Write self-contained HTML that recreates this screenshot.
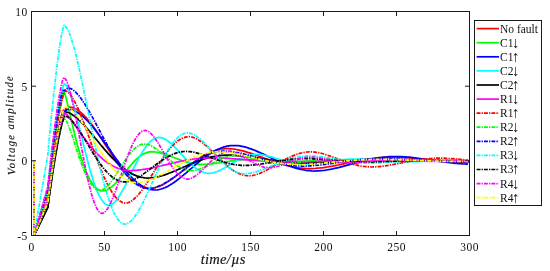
<!DOCTYPE html>
<html lang="en"><head><meta charset="utf-8"><title>Voltage amplitude</title>
<style>html,body{margin:0;padding:0;background:#fff}body{width:550px;height:271px;overflow:hidden}svg{display:block}text{font-family:"Liberation Serif",serif;fill:#111}.tk{font-size:11.5px}.lg{font-size:11.5px}.c{fill:none;stroke-width:1.75;stroke-linejoin:round}.d{stroke-dasharray:3.9 1.1 1.3 1.1}</style></head><body>
<svg width="550" height="271" viewBox="0 0 550 271">
<rect width="550" height="271" fill="#fff"/>
<clipPath id="cp"><rect x="31.5" y="11.5" width="438.0" height="224.0"/></clipPath>
<g clip-path="url(#cp)">
<path class="c" stroke="#ff0000" d="M34.0,160.8 L34.0,235.5 L47.9,205.6 L48.5,200.1 L49.2,194.6 L49.8,189.3 L50.5,184.0 L51.1,178.9 L51.8,173.8 L52.5,168.9 L53.1,164.1 L53.8,159.4 L54.4,154.8 L55.1,150.4 L55.7,146.1 L56.4,141.9 L57.0,137.9 L57.7,134.0 L58.4,130.4 L59.0,126.8 L59.7,123.5 L60.3,120.4 L61.0,117.6 L61.6,115.0 L62.3,112.7 L63.0,110.9 L63.6,109.8 L64.3,109.7 L65.1,109.4 L65.8,108.9 L66.5,108.4 L67.3,107.9 L68.0,107.5 L68.7,107.2 L69.5,107.1 L71.3,107.3 L73.1,107.8 L74.9,108.5 L76.8,109.5 L78.6,110.7 L80.4,112.1 L82.2,113.7 L84.1,115.5 L85.9,117.4 L87.7,119.5 L89.5,121.8 L91.4,124.1 L93.2,126.6 L95.0,129.1 L96.8,131.8 L98.7,134.5 L100.5,137.3 L102.3,140.1 L104.1,142.9 L106.0,145.7 L107.8,148.6 L109.6,151.4 L111.4,154.2 L113.3,157.0 L115.1,159.7 L116.9,162.3 L118.7,164.9 L120.6,167.3 L122.4,169.7 L124.2,172.0 L126.0,174.2 L127.9,176.2 L129.7,178.1 L131.5,179.8 L133.3,181.4 L135.2,182.9 L137.0,184.2 L138.8,185.3 L140.6,186.3 L142.5,187.1 L144.3,187.7 L146.1,188.1 L147.9,188.4 L149.8,188.5 L151.6,188.3 L153.4,188.1 L155.3,187.6 L157.1,187.0 L159.0,186.4 L160.8,185.6 L162.7,184.7 L164.5,183.7 L166.3,182.6 L168.2,181.5 L170.0,180.3 L171.9,179.0 L173.7,177.7 L175.6,176.3 L177.4,174.9 L179.2,173.5 L181.1,172.1 L182.9,170.6 L184.8,169.2 L186.6,167.7 L188.4,166.3 L190.3,164.9 L192.1,163.5 L194.0,162.1 L195.8,160.8 L197.7,159.5 L199.5,158.3 L201.3,157.1 L203.2,156.0 L205.0,154.9 L206.9,154.0 L208.7,153.0 L210.6,152.2 L212.4,151.5 L214.2,150.8 L216.1,150.2 L217.9,149.7 L219.8,149.3 L221.6,149.0 L223.5,148.8 L225.3,148.6 L227.1,148.6 L229.0,148.6 L230.8,148.8 L232.7,149.0 L234.5,149.2 L236.4,149.5 L238.2,149.9 L240.1,150.3 L241.9,150.7 L243.8,151.2 L245.6,151.7 L247.5,152.3 L249.3,152.8 L251.2,153.4 L253.0,154.0 L254.9,154.7 L256.7,155.3 L258.6,156.0 L260.4,156.7 L262.3,157.3 L264.1,158.0 L266.0,158.7 L267.8,159.4 L269.7,160.1 L271.5,160.7 L273.4,161.4 L275.2,162.0 L277.1,162.6 L278.9,163.2 L280.8,163.8 L282.6,164.3 L284.5,164.9 L286.3,165.3 L288.2,165.8 L290.0,166.2 L291.9,166.6 L293.7,167.0 L295.6,167.3 L297.4,167.6 L299.3,167.9 L301.1,168.1 L303.0,168.3 L304.8,168.4 L306.7,168.5 L308.5,168.6 L310.4,168.6 L312.2,168.6 L314.1,168.5 L315.9,168.4 L317.8,168.2 L319.7,168.0 L321.5,167.8 L323.4,167.6 L325.2,167.3 L327.1,167.0 L328.9,166.7 L330.8,166.4 L332.7,166.1 L334.5,165.7 L336.4,165.3 L338.2,165.0 L340.1,164.6 L341.9,164.2 L343.8,163.8 L345.7,163.4 L347.5,163.0 L349.4,162.6 L351.2,162.2 L353.1,161.8 L355.0,161.4 L356.8,161.1 L358.7,160.7 L360.5,160.3 L362.4,160.0 L364.2,159.7 L366.1,159.3 L368.0,159.1 L369.8,158.8 L371.7,158.5 L373.5,158.3 L375.4,158.1 L377.3,157.9 L379.1,157.7 L381.0,157.5 L382.8,157.4 L384.7,157.3 L386.5,157.2 L388.4,157.1 L390.3,157.1 L392.1,157.1 L394.0,157.1 L395.8,157.2 L397.7,157.2 L399.6,157.3 L401.4,157.4 L403.3,157.5 L405.1,157.6 L407.0,157.7 L408.8,157.8 L410.7,158.0 L412.6,158.2 L414.4,158.3 L416.3,158.5 L418.1,158.7 L420.0,158.8 L421.9,159.0 L423.7,159.2 L425.6,159.4 L427.4,159.6 L429.3,159.8 L431.1,160.0 L433.0,160.2 L434.9,160.4 L436.7,160.5 L438.6,160.7 L440.4,160.9 L442.3,161.1 L444.1,161.2 L446.0,161.4 L447.9,161.5 L449.7,161.7 L451.6,161.8 L453.4,161.9 L455.3,162.1 L457.2,162.2 L459.0,162.3 L460.9,162.3 L462.7,162.4 L464.6,162.5 L466.4,162.5 L468.3,162.6"/>
<path class="c" stroke="#00ff00" d="M34.0,160.8 L34.0,235.5 L47.9,189.2 L48.5,183.6 L49.2,178.1 L49.9,172.7 L50.6,167.3 L51.3,162.1 L52.0,157.0 L52.7,152.0 L53.4,147.2 L54.0,142.4 L54.7,137.8 L55.4,133.3 L56.1,128.9 L56.8,124.7 L57.5,120.6 L58.2,116.7 L58.9,113.0 L59.5,109.4 L60.2,106.1 L60.9,102.9 L61.6,100.0 L62.3,97.4 L63.0,95.1 L63.7,93.3 L64.3,92.1 L66.2,98.3 L68.0,106.0 L69.9,113.9 L71.7,121.9 L73.6,129.7 L75.4,137.2 L77.2,144.3 L79.1,150.9 L80.9,157.1 L82.8,162.7 L84.6,167.8 L86.5,172.4 L88.3,176.5 L90.1,180.1 L92.0,183.1 L93.8,185.6 L95.7,187.6 L97.5,189.1 L99.4,190.2 L101.2,190.8 L103.0,191.0 L104.9,190.7 L106.8,190.0 L108.7,189.0 L110.5,187.8 L112.4,186.2 L114.3,184.5 L116.2,182.6 L118.0,180.5 L119.9,178.3 L121.8,176.1 L123.7,173.8 L125.5,171.4 L127.4,169.2 L129.3,166.9 L131.2,164.7 L133.0,162.7 L134.9,160.7 L136.8,158.9 L138.7,157.3 L140.6,155.9 L142.4,154.6 L144.3,153.6 L146.2,152.8 L148.1,152.2 L149.9,151.8 L151.8,151.7 L153.7,151.8 L155.5,152.0 L157.4,152.3 L159.3,152.7 L161.2,153.2 L163.0,153.7 L164.9,154.3 L166.8,154.9 L168.6,155.6 L170.5,156.3 L172.4,157.0 L174.3,157.7 L176.1,158.4 L178.0,159.1 L179.9,159.8 L181.7,160.5 L183.6,161.1 L185.5,161.7 L187.4,162.3 L189.2,162.7 L191.1,163.2 L193.0,163.6 L194.8,163.9 L196.7,164.1 L198.6,164.3 L200.4,164.4 L202.3,164.4 L204.2,164.4 L206.0,164.3 L207.8,164.2 L209.7,164.0 L211.5,163.8 L213.4,163.6 L215.2,163.4 L217.0,163.1 L218.9,162.9 L220.7,162.6 L222.5,162.3 L224.4,162.0 L226.2,161.7 L228.1,161.5 L229.9,161.2 L231.7,160.9 L233.6,160.7 L235.4,160.4 L237.3,160.2 L239.1,160.0 L240.9,159.8 L242.8,159.7 L244.6,159.6 L246.4,159.5 L248.3,159.4 L250.1,159.4 L252.0,159.3 L253.8,159.4 L255.6,159.4 L257.5,159.4 L259.3,159.5 L261.2,159.6 L263.0,159.7 L264.8,159.8 L266.7,159.9 L268.5,160.0 L270.3,160.1 L272.2,160.2 L274.0,160.3 L275.9,160.4 L277.7,160.6 L279.5,160.7 L281.4,160.8 L283.2,160.9 L285.1,161.0 L286.9,161.1 L288.7,161.2 L290.6,161.2 L292.4,161.3 L294.2,161.3 L296.1,161.4 L297.9,161.4 L299.8,161.4 L301.6,161.4 L303.4,161.4 L305.3,161.4 L307.1,161.4 L309.0,161.4 L310.8,161.3 L312.6,161.3 L314.5,161.2 L316.3,161.2 L318.1,161.2 L320.0,161.1 L321.8,161.1 L323.7,161.0 L325.5,161.0 L327.3,160.9 L329.2,160.9 L331.0,160.8 L332.9,160.8 L334.7,160.7 L336.5,160.7 L338.4,160.7 L340.2,160.6 L342.0,160.6 L343.9,160.6 L345.7,160.6 L347.6,160.5 L349.4,160.5 L351.2,160.5 L353.1,160.5 L354.9,160.5 L356.8,160.6 L358.6,160.6 L360.4,160.6 L362.3,160.6 L364.1,160.6 L365.9,160.6 L367.8,160.7 L369.6,160.7 L371.5,160.7 L373.3,160.7 L375.1,160.8 L377.0,160.8 L378.8,160.8 L380.7,160.8 L382.5,160.9 L384.3,160.9 L386.2,160.9 L388.0,160.9 L389.8,160.9 L391.7,161.0 L393.5,161.0 L395.4,161.0 L397.2,161.0 L399.0,161.0 L400.9,161.0 L402.7,161.0 L404.6,161.0 L406.4,161.0 L408.2,161.0 L410.1,161.0 L411.9,161.0 L413.7,161.0 L415.6,160.9 L417.4,160.9 L419.3,160.9 L421.1,160.9 L422.9,160.9 L424.8,160.9 L426.6,160.9 L428.5,160.9 L430.3,160.9 L432.1,160.9 L434.0,160.9 L435.8,160.9 L437.7,160.9 L439.5,160.8 L441.3,160.8 L443.2,160.8 L445.0,160.8 L446.8,160.8 L448.7,160.8 L450.5,160.8 L452.4,160.8 L454.2,160.8 L456.0,160.8 L457.9,160.8 L459.7,160.8 L461.6,160.8 L463.4,160.8 L465.2,160.8 L467.1,160.8 L468.9,160.8"/>
<path class="c" stroke="#0000ff" d="M34.0,160.8 L34.0,235.5 L47.9,207.1 L48.5,201.6 L49.2,196.2 L49.8,190.8 L50.5,185.6 L51.1,180.5 L51.8,175.4 L52.5,170.5 L53.1,165.7 L53.8,161.0 L54.4,156.5 L55.1,152.1 L55.7,147.8 L56.4,143.6 L57.0,139.6 L57.7,135.8 L58.4,132.1 L59.0,128.6 L59.7,125.3 L60.3,122.2 L61.0,119.3 L61.6,116.8 L62.3,114.5 L63.0,112.7 L63.6,111.6 L64.2,111.5 L64.7,111.2 L65.3,110.9 L65.8,110.4 L66.4,110.0 L66.9,109.6 L67.5,109.4 L68.0,109.3 L69.8,109.5 L71.7,109.9 L73.5,110.5 L75.3,111.3 L77.1,112.2 L79.0,113.4 L80.8,114.7 L82.6,116.2 L84.4,117.8 L86.2,119.6 L88.1,121.5 L89.9,123.5 L91.7,125.6 L93.5,127.8 L95.4,130.1 L97.2,132.5 L99.0,134.9 L100.8,137.4 L102.7,139.9 L104.5,142.5 L106.3,145.0 L108.2,147.6 L110.0,150.2 L111.8,152.8 L113.6,155.3 L115.5,157.9 L117.3,160.3 L119.1,162.8 L120.9,165.2 L122.8,167.5 L124.6,169.7 L126.4,171.9 L128.2,173.9 L130.1,175.9 L131.9,177.7 L133.7,179.5 L135.5,181.1 L137.3,182.6 L139.2,184.0 L141.0,185.2 L142.8,186.3 L144.7,187.3 L146.5,188.1 L148.3,188.8 L150.1,189.3 L151.9,189.7 L153.8,189.9 L155.6,190.0 L157.4,189.8 L159.3,189.5 L161.1,189.0 L162.9,188.4 L164.8,187.7 L166.6,186.9 L168.4,185.9 L170.3,184.8 L172.1,183.7 L173.9,182.5 L175.8,181.2 L177.6,179.8 L179.4,178.4 L181.3,176.9 L183.1,175.4 L184.9,173.9 L186.8,172.3 L188.6,170.7 L190.4,169.1 L192.3,167.6 L194.1,166.0 L195.9,164.4 L197.8,162.9 L199.6,161.4 L201.4,159.9 L203.3,158.5 L205.1,157.1 L206.9,155.8 L208.8,154.5 L210.6,153.3 L212.4,152.2 L214.3,151.2 L216.1,150.2 L217.9,149.3 L219.8,148.5 L221.6,147.8 L223.4,147.2 L225.3,146.7 L227.1,146.2 L228.9,145.9 L230.8,145.6 L232.6,145.5 L234.4,145.5 L236.3,145.5 L238.1,145.7 L240.0,145.9 L241.8,146.3 L243.6,146.7 L245.5,147.2 L247.3,147.7 L249.1,148.3 L251.0,148.9 L252.8,149.6 L254.7,150.3 L256.5,151.1 L258.3,151.9 L260.2,152.7 L262.0,153.5 L263.9,154.4 L265.7,155.2 L267.5,156.1 L269.4,157.0 L271.2,157.9 L273.0,158.8 L274.9,159.7 L276.7,160.5 L278.6,161.4 L280.4,162.2 L282.2,163.0 L284.1,163.8 L285.9,164.6 L287.7,165.3 L289.6,166.0 L291.4,166.7 L293.3,167.3 L295.1,167.8 L296.9,168.4 L298.8,168.9 L300.6,169.3 L302.5,169.7 L304.3,170.0 L306.1,170.3 L308.0,170.6 L309.8,170.7 L311.6,170.9 L313.5,171.0 L315.3,171.0 L317.2,170.9 L319.0,170.9 L320.9,170.7 L322.7,170.5 L324.5,170.3 L326.4,170.0 L328.2,169.7 L330.1,169.4 L331.9,169.0 L333.8,168.6 L335.6,168.2 L337.5,167.8 L339.3,167.4 L341.2,166.9 L343.0,166.4 L344.8,165.9 L346.7,165.4 L348.5,164.9 L350.4,164.4 L352.2,163.9 L354.1,163.4 L355.9,162.9 L357.8,162.4 L359.6,162.0 L361.4,161.5 L363.3,161.0 L365.1,160.6 L367.0,160.1 L368.8,159.7 L370.7,159.3 L372.5,159.0 L374.4,158.6 L376.2,158.3 L378.1,158.0 L379.9,157.7 L381.7,157.5 L383.6,157.2 L385.4,157.0 L387.3,156.9 L389.1,156.7 L391.0,156.6 L392.8,156.6 L394.7,156.5 L396.5,156.5 L398.3,156.5 L400.2,156.6 L402.0,156.7 L403.8,156.8 L405.7,156.9 L407.5,157.0 L409.3,157.2 L411.2,157.4 L413.0,157.6 L414.8,157.8 L416.7,158.0 L418.5,158.3 L420.3,158.5 L422.2,158.8 L424.0,159.0 L425.8,159.3 L427.7,159.6 L429.5,159.9 L431.3,160.1 L433.2,160.4 L435.0,160.7 L436.8,161.0 L438.7,161.2 L440.5,161.5 L442.3,161.7 L444.2,162.0 L446.0,162.2 L447.8,162.5 L449.7,162.7 L451.5,162.9 L453.3,163.1 L455.2,163.3 L457.0,163.4 L458.8,163.6 L460.7,163.7 L462.5,163.9 L464.3,164.0 L466.2,164.1 L468.0,164.1"/>
<path class="c" stroke="#00ffff" d="M34.0,160.8 L34.0,235.5 L47.9,187.7 L48.5,181.7 L49.2,175.8 L49.9,170.0 L50.6,164.3 L51.3,158.7 L52.0,153.2 L52.7,147.9 L53.4,142.6 L54.0,137.5 L54.7,132.6 L55.4,127.7 L56.1,123.1 L56.8,118.5 L57.5,114.2 L58.2,110.0 L58.9,106.0 L59.5,102.2 L60.2,98.6 L60.9,95.2 L61.6,92.1 L62.3,89.3 L63.0,86.8 L63.7,84.8 L64.3,83.6 L66.2,85.3 L68.1,88.7 L69.9,93.3 L71.8,98.8 L73.6,105.1 L75.5,112.0 L77.3,119.3 L79.2,126.8 L81.0,134.5 L82.9,142.1 L84.8,149.7 L86.6,157.1 L88.5,164.2 L90.3,170.9 L92.2,177.1 L94.0,182.8 L95.9,188.0 L97.7,192.5 L99.6,196.4 L101.5,199.6 L103.3,202.1 L105.2,203.9 L107.0,205.0 L108.9,205.3 L110.7,204.9 L112.6,203.8 L114.5,202.2 L116.3,200.1 L118.2,197.6 L120.1,194.8 L121.9,191.6 L123.8,188.2 L125.7,184.7 L127.5,180.9 L129.4,177.1 L131.3,173.3 L133.1,169.4 L135.0,165.7 L136.9,162.0 L138.7,158.4 L140.6,155.0 L142.5,151.9 L144.3,149.0 L146.2,146.4 L148.1,144.0 L149.9,142.0 L151.8,140.4 L153.7,139.1 L155.5,138.1 L157.4,137.6 L159.2,137.4 L161.1,137.6 L163.0,138.2 L164.8,139.1 L166.7,140.2 L168.5,141.5 L170.4,143.0 L172.2,144.7 L174.1,146.4 L175.9,148.3 L177.8,150.3 L179.7,152.3 L181.5,154.4 L183.4,156.4 L185.2,158.4 L187.1,160.4 L188.9,162.2 L190.8,164.0 L192.6,165.7 L194.5,167.2 L196.3,168.6 L198.2,169.9 L200.1,170.9 L201.9,171.8 L203.8,172.5 L205.6,173.0 L207.5,173.3 L209.3,173.4 L211.2,173.2 L213.1,172.9 L215.0,172.4 L216.8,171.7 L218.7,170.9 L220.6,170.0 L222.5,169.0 L224.4,168.0 L226.3,166.9 L228.1,165.7 L230.0,164.6 L231.9,163.4 L233.8,162.3 L235.7,161.2 L237.5,160.1 L239.4,159.1 L241.3,158.2 L243.2,157.3 L245.1,156.6 L246.9,155.9 L248.8,155.4 L250.7,155.0 L252.6,154.7 L254.5,154.5 L256.3,154.4 L258.2,154.5 L260.0,154.6 L261.9,154.9 L263.7,155.2 L265.5,155.5 L267.4,155.9 L269.2,156.4 L271.0,156.9 L272.9,157.4 L274.7,158.0 L276.6,158.5 L278.4,159.1 L280.2,159.6 L282.1,160.2 L283.9,160.7 L285.8,161.2 L287.6,161.7 L289.4,162.2 L291.3,162.6 L293.1,163.0 L294.9,163.3 L296.8,163.6 L298.6,163.8 L300.5,164.0 L302.3,164.2 L304.1,164.2 L306.0,164.3 L307.8,164.2 L309.7,164.1 L311.5,164.0 L313.3,163.9 L315.2,163.7 L317.0,163.5 L318.8,163.2 L320.7,163.0 L322.5,162.7 L324.4,162.4 L326.2,162.1 L328.0,161.8 L329.9,161.5 L331.7,161.2 L333.6,160.9 L335.4,160.7 L337.2,160.4 L339.1,160.2 L340.9,159.9 L342.8,159.7 L344.6,159.6 L346.4,159.4 L348.3,159.3 L350.1,159.2 L351.9,159.1 L353.8,159.1 L355.6,159.0 L357.5,159.1 L359.3,159.1 L361.1,159.2 L363.0,159.2 L364.8,159.3 L366.7,159.5 L368.5,159.6 L370.3,159.7 L372.2,159.9 L374.0,160.0 L375.8,160.2 L377.7,160.3 L379.5,160.5 L381.4,160.6 L383.2,160.8 L385.0,160.9 L386.9,161.0 L388.7,161.2 L390.6,161.3 L392.4,161.4 L394.2,161.5 L396.1,161.5 L397.9,161.6 L399.7,161.7 L401.6,161.7 L403.4,161.7 L405.3,161.7 L407.1,161.7 L408.9,161.7 L410.8,161.7 L412.6,161.6 L414.5,161.6 L416.3,161.5 L418.1,161.5 L420.0,161.4 L421.8,161.3 L423.6,161.2 L425.5,161.2 L427.3,161.1 L429.2,161.0 L431.0,160.9 L432.8,160.9 L434.7,160.8 L436.5,160.7 L438.4,160.7 L440.2,160.6 L442.0,160.6 L443.9,160.5 L445.7,160.5 L447.5,160.4 L449.4,160.4 L451.2,160.4 L453.1,160.4 L454.9,160.4 L456.7,160.4 L458.6,160.4 L460.4,160.4 L462.3,160.4 L464.1,160.5 L465.9,160.5 L467.8,160.5"/>
<path class="c" stroke="#000000" d="M34.0,160.8 L34.0,235.5 L47.9,207.1 L48.6,201.6 L49.3,196.2 L50.1,190.9 L50.8,185.7 L51.6,180.6 L52.3,175.6 L53.1,170.7 L53.8,165.9 L54.6,161.3 L55.3,156.7 L56.1,152.3 L56.8,148.0 L57.6,143.9 L58.3,139.9 L59.1,136.1 L59.8,132.4 L60.6,129.0 L61.3,125.7 L62.1,122.6 L62.8,119.7 L63.6,117.2 L64.3,114.9 L65.1,113.1 L65.8,112.0 L67.6,112.3 L69.5,113.0 L71.3,114.0 L73.1,115.2 L75.0,116.5 L76.8,118.0 L78.6,119.7 L80.5,121.4 L82.3,123.3 L84.1,125.2 L86.0,127.3 L87.8,129.4 L89.6,131.5 L91.5,133.7 L93.3,135.9 L95.1,138.1 L97.0,140.3 L98.8,142.5 L100.6,144.7 L102.5,146.9 L104.3,149.1 L106.1,151.2 L108.0,153.3 L109.8,155.3 L111.6,157.3 L113.5,159.2 L115.3,161.0 L117.1,162.8 L119.0,164.4 L120.8,166.0 L122.6,167.6 L124.5,169.0 L126.3,170.3 L128.1,171.5 L130.0,172.6 L131.8,173.7 L133.6,174.6 L135.5,175.4 L137.3,176.1 L139.1,176.7 L141.0,177.2 L142.8,177.5 L144.6,177.8 L146.5,178.0 L148.3,178.0 L150.1,177.9 L152.0,177.8 L153.8,177.5 L155.6,177.2 L157.5,176.9 L159.3,176.4 L161.1,175.9 L163.0,175.4 L164.8,174.8 L166.6,174.2 L168.5,173.5 L170.3,172.8 L172.1,172.1 L174.0,171.3 L175.8,170.5 L177.6,169.7 L179.5,168.9 L181.3,168.1 L183.1,167.3 L185.0,166.5 L186.8,165.7 L188.6,164.9 L190.5,164.1 L192.3,163.3 L194.1,162.6 L196.0,161.9 L197.8,161.1 L199.6,160.5 L201.5,159.8 L203.3,159.2 L205.1,158.6 L207.0,158.1 L208.8,157.6 L210.6,157.1 L212.5,156.7 L214.3,156.4 L216.1,156.0 L218.0,155.8 L219.8,155.6 L221.6,155.4 L223.5,155.3 L225.3,155.2 L227.1,155.2 L229.0,155.2 L230.8,155.2 L232.6,155.3 L234.5,155.4 L236.3,155.6 L238.1,155.7 L240.0,155.9 L241.8,156.1 L243.6,156.3 L245.5,156.5 L247.3,156.7 L249.1,157.0 L251.0,157.2 L252.8,157.5 L254.6,157.7 L256.5,158.0 L258.3,158.3 L260.1,158.6 L262.0,158.9 L263.8,159.1 L265.6,159.4 L267.5,159.7 L269.3,160.0 L271.1,160.2 L273.0,160.5 L274.8,160.8 L276.6,161.0 L278.5,161.2 L280.3,161.5 L282.1,161.7 L284.0,161.9 L285.8,162.1 L287.6,162.2 L289.5,162.4 L291.3,162.5 L293.1,162.7 L295.0,162.8 L296.8,162.9 L298.6,162.9 L300.5,163.0 L302.3,163.0 L304.1,163.1 L306.0,163.1 L307.8,163.1 L309.6,163.0 L311.5,163.0 L313.3,163.0 L315.1,162.9 L317.0,162.9 L318.8,162.8 L320.6,162.7 L322.5,162.6 L324.3,162.5 L326.1,162.5 L328.0,162.4 L329.8,162.3 L331.6,162.2 L333.5,162.0 L335.3,161.9 L337.1,161.8 L339.0,161.7 L340.8,161.6 L342.6,161.5 L344.5,161.4 L346.3,161.3 L348.2,161.2 L350.0,161.1 L351.8,161.0 L353.7,160.9 L355.5,160.8 L357.3,160.7 L359.2,160.6 L361.0,160.5 L362.8,160.4 L364.7,160.3 L366.5,160.3 L368.3,160.2 L370.2,160.2 L372.0,160.1 L373.8,160.1 L375.7,160.0 L377.5,160.0 L379.3,160.0 L381.2,160.0 L383.0,159.9 L384.8,159.9 L386.7,159.9 L388.5,159.9 L390.3,160.0 L392.2,160.0 L394.0,160.0 L395.8,160.0 L397.7,160.0 L399.5,160.1 L401.3,160.1 L403.2,160.1 L405.0,160.2 L406.8,160.2 L408.7,160.2 L410.5,160.3 L412.3,160.3 L414.2,160.4 L416.0,160.4 L417.8,160.5 L419.7,160.5 L421.5,160.5 L423.3,160.6 L425.2,160.6 L427.0,160.7 L428.8,160.7 L430.7,160.7 L432.5,160.8 L434.3,160.8 L436.2,160.9 L438.0,160.9 L439.8,160.9 L441.7,161.0 L443.5,161.0 L445.3,161.0 L447.2,161.0 L449.0,161.0 L450.8,161.1 L452.7,161.1 L454.5,161.1 L456.3,161.1 L458.2,161.1 L460.0,161.1 L461.8,161.1 L463.7,161.1 L465.5,161.1 L467.3,161.1 L469.2,161.1"/>
<path class="c" stroke="#ff00ff" d="M34.0,160.8 L34.0,235.5 L47.9,199.7 L48.6,194.7 L49.3,189.7 L50.0,184.9 L50.7,180.1 L51.4,175.5 L52.2,170.9 L52.9,166.5 L53.6,162.1 L54.3,157.9 L55.0,153.8 L55.7,149.8 L56.5,145.9 L57.2,142.1 L57.9,138.5 L58.6,135.0 L59.3,131.7 L60.1,128.5 L60.8,125.5 L61.5,122.7 L62.2,120.1 L62.9,117.8 L63.6,115.7 L64.4,114.1 L65.1,113.0 L66.9,114.6 L68.7,116.7 L70.6,119.0 L72.4,121.5 L74.2,124.1 L76.0,126.7 L77.9,129.3 L79.7,131.9 L81.5,134.4 L83.3,137.0 L85.2,139.4 L87.0,141.8 L88.8,144.2 L90.6,146.4 L92.5,148.6 L94.3,150.7 L96.1,152.7 L97.9,154.5 L99.8,156.3 L101.6,158.0 L103.4,159.6 L105.2,161.0 L107.1,162.4 L108.9,163.6 L110.7,164.8 L112.5,165.8 L114.4,166.7 L116.2,167.6 L118.0,168.3 L119.8,168.9 L121.7,169.4 L123.5,169.8 L125.3,170.1 L127.1,170.4 L129.0,170.5 L130.8,170.5 L132.6,170.5 L134.4,170.4 L136.3,170.3 L138.1,170.1 L139.9,169.9 L141.7,169.7 L143.6,169.4 L145.4,169.1 L147.2,168.8 L149.0,168.5 L150.9,168.1 L152.7,167.8 L154.5,167.4 L156.3,167.0 L158.2,166.5 L160.0,166.1 L161.8,165.7 L163.6,165.2 L165.5,164.8 L167.3,164.4 L169.1,163.9 L170.9,163.5 L172.8,163.0 L174.6,162.6 L176.4,162.2 L178.2,161.8 L180.1,161.4 L181.9,161.0 L183.7,160.7 L185.5,160.3 L187.4,160.0 L189.2,159.7 L191.0,159.4 L192.8,159.1 L194.7,158.9 L196.5,158.7 L198.3,158.5 L200.1,158.3 L202.0,158.2 L203.8,158.1 L205.6,158.0 L207.4,157.9 L209.3,157.9 L211.1,157.8 L212.9,157.9 L214.8,157.9 L216.6,157.9 L218.5,158.0 L220.3,158.1 L222.2,158.1 L224.0,158.2 L225.9,158.3 L227.7,158.4 L229.6,158.6 L231.4,158.7 L233.3,158.8 L235.2,158.9 L237.0,159.1 L238.9,159.2 L240.7,159.4 L242.6,159.5 L244.4,159.6 L246.3,159.8 L248.1,159.9 L250.0,160.1 L251.8,160.2 L253.7,160.4 L255.5,160.5 L257.4,160.6 L259.2,160.7 L261.1,160.9 L262.9,161.0 L264.8,161.1 L266.6,161.2 L268.5,161.3 L270.3,161.4 L272.2,161.4 L274.0,161.5 L275.9,161.6 L277.7,161.6 L279.6,161.7 L281.4,161.7 L283.3,161.7 L285.1,161.7 L287.0,161.7 L288.8,161.7 L290.7,161.7 L292.5,161.7 L294.4,161.7 L296.2,161.7 L298.1,161.6 L299.9,161.6 L301.7,161.6 L303.6,161.6 L305.4,161.5 L307.3,161.5 L309.1,161.4 L311.0,161.4 L312.8,161.4 L314.6,161.3 L316.5,161.3 L318.3,161.2 L320.2,161.2 L322.0,161.2 L323.8,161.1 L325.7,161.1 L327.5,161.0 L329.4,161.0 L331.2,160.9 L333.1,160.9 L334.9,160.9 L336.7,160.8 L338.6,160.8 L340.4,160.8 L342.3,160.7 L344.1,160.7 L346.0,160.7 L347.8,160.6 L349.6,160.6 L351.5,160.6 L353.3,160.6 L355.2,160.6 L357.0,160.6 L358.9,160.5 L360.7,160.5 L362.5,160.5 L364.4,160.5 L366.2,160.5 L368.1,160.5 L369.9,160.5 L371.8,160.6 L373.6,160.6 L375.5,160.6 L377.3,160.6 L379.2,160.6 L381.0,160.6 L382.9,160.6 L384.7,160.6 L386.6,160.6 L388.5,160.7 L390.3,160.7 L392.2,160.7 L394.0,160.7 L395.9,160.7 L397.7,160.7 L399.6,160.8 L401.4,160.8 L403.3,160.8 L405.1,160.8 L407.0,160.8 L408.8,160.8 L410.7,160.9 L412.5,160.9 L414.4,160.9 L416.2,160.9 L418.1,160.9 L419.9,160.9 L421.8,160.9 L423.6,160.9 L425.5,160.9 L427.3,161.0 L429.2,161.0 L431.0,161.0 L432.9,161.0 L434.7,161.0 L436.6,161.0 L438.4,161.0 L440.3,161.0 L442.2,161.0 L444.0,161.0 L445.9,161.0 L447.7,161.0 L449.6,161.0 L451.4,161.0 L453.3,161.0 L455.1,161.0 L457.0,161.0 L458.8,161.0 L460.7,161.0 L462.5,160.9 L464.4,160.9 L466.2,160.9 L468.1,160.9"/>
<path class="c d" stroke="#ff0000" d="M34.0,160.8 L34.0,235.5 L47.9,193.7 L48.6,187.7 L49.3,181.9 L50.0,176.1 L50.7,170.5 L51.4,165.0 L52.2,159.6 L52.9,154.3 L53.6,149.1 L54.3,144.1 L55.0,139.2 L55.7,134.4 L56.5,129.8 L57.2,125.3 L57.9,121.0 L58.6,116.9 L59.3,112.9 L60.1,109.1 L60.8,105.6 L61.5,102.2 L62.2,99.2 L62.9,96.4 L63.6,94.0 L64.4,92.0 L65.1,90.8 L66.9,91.4 L68.8,92.9 L70.6,95.0 L72.4,97.7 L74.3,100.9 L76.1,104.5 L78.0,108.4 L79.8,112.7 L81.6,117.3 L83.5,122.1 L85.3,127.0 L87.2,132.1 L89.0,137.2 L90.8,142.4 L92.7,147.6 L94.5,152.7 L96.4,157.7 L98.2,162.6 L100.0,167.4 L101.9,171.9 L103.7,176.3 L105.6,180.3 L107.4,184.1 L109.3,187.6 L111.1,190.8 L112.9,193.6 L114.8,196.1 L116.6,198.3 L118.5,200.0 L120.3,201.3 L122.1,202.3 L124.0,202.9 L125.8,203.1 L127.7,202.8 L129.5,202.1 L131.4,201.0 L133.3,199.7 L135.1,198.0 L137.0,196.1 L138.9,194.0 L140.7,191.7 L142.6,189.2 L144.5,186.6 L146.3,183.8 L148.2,181.0 L150.0,178.0 L151.9,175.1 L153.8,172.1 L155.6,169.1 L157.5,166.1 L159.4,163.2 L161.2,160.4 L163.1,157.6 L165.0,155.0 L166.8,152.4 L168.7,150.0 L170.5,147.8 L172.4,145.8 L174.3,143.9 L176.1,142.2 L178.0,140.8 L179.9,139.5 L181.7,138.5 L183.6,137.7 L185.5,137.1 L187.3,136.8 L189.2,136.6 L191.1,136.8 L192.9,137.3 L194.8,138.0 L196.7,138.9 L198.5,140.0 L200.4,141.2 L202.3,142.6 L204.1,144.1 L206.0,145.7 L207.9,147.4 L209.8,149.1 L211.6,151.0 L213.5,152.8 L215.4,154.7 L217.2,156.6 L219.1,158.4 L221.0,160.2 L222.9,162.0 L224.7,163.7 L226.6,165.4 L228.5,166.9 L230.3,168.4 L232.2,169.7 L234.1,171.0 L235.9,172.1 L237.8,173.0 L239.7,173.9 L241.6,174.5 L243.4,175.1 L245.3,175.5 L247.2,175.7 L249.0,175.8 L250.9,175.7 L252.8,175.4 L254.7,175.0 L256.5,174.5 L258.4,173.8 L260.3,173.1 L262.2,172.3 L264.0,171.5 L265.9,170.5 L267.8,169.5 L269.7,168.5 L271.6,167.4 L273.4,166.3 L275.3,165.2 L277.2,164.1 L279.1,163.0 L280.9,161.9 L282.8,160.9 L284.7,159.8 L286.6,158.8 L288.4,157.9 L290.3,157.0 L292.2,156.1 L294.1,155.4 L295.9,154.6 L297.8,154.0 L299.7,153.4 L301.6,153.0 L303.4,152.6 L305.3,152.3 L307.2,152.0 L309.1,151.9 L310.9,151.9 L312.8,151.9 L314.6,152.1 L316.5,152.4 L318.3,152.7 L320.1,153.1 L322.0,153.5 L323.8,154.0 L325.7,154.6 L327.5,155.2 L329.3,155.8 L331.2,156.5 L333.0,157.1 L334.9,157.8 L336.7,158.5 L338.6,159.2 L340.4,159.9 L342.2,160.6 L344.1,161.3 L345.9,161.9 L347.8,162.6 L349.6,163.2 L351.4,163.7 L353.3,164.3 L355.1,164.8 L357.0,165.2 L358.8,165.6 L360.6,166.0 L362.5,166.3 L364.3,166.5 L366.2,166.7 L368.0,166.8 L369.8,166.9 L371.7,167.0 L373.5,166.9 L375.4,166.8 L377.2,166.7 L379.1,166.6 L381.0,166.4 L382.8,166.2 L384.7,165.9 L386.5,165.6 L388.4,165.4 L390.2,165.0 L392.1,164.7 L393.9,164.4 L395.8,164.0 L397.6,163.7 L399.5,163.3 L401.4,163.0 L403.2,162.6 L405.1,162.2 L406.9,161.9 L408.8,161.5 L410.6,161.2 L412.5,160.8 L414.3,160.5 L416.2,160.2 L418.0,159.9 L419.9,159.7 L421.8,159.4 L423.6,159.2 L425.5,159.0 L427.3,158.8 L429.2,158.6 L431.0,158.5 L432.9,158.4 L434.7,158.3 L436.6,158.2 L438.4,158.2 L440.3,158.1 L442.2,158.2 L444.0,158.2 L445.9,158.3 L447.7,158.4 L449.6,158.5 L451.4,158.6 L453.3,158.7 L455.2,158.9 L457.0,159.1 L458.9,159.2 L460.7,159.4 L462.6,159.6 L464.5,159.8 L466.3,160.0 L468.2,160.2"/>
<path class="c d" stroke="#00ff00" d="M34.0,160.8 L34.0,235.5 L47.9,201.2 L48.5,196.4 L49.2,191.6 L49.9,187.0 L50.6,182.4 L51.3,178.0 L52.0,173.6 L52.7,169.4 L53.4,165.2 L54.0,161.1 L54.7,157.2 L55.4,153.3 L56.1,149.6 L56.8,146.0 L57.5,142.5 L58.2,139.2 L58.9,136.0 L59.5,132.9 L60.2,130.0 L60.9,127.4 L61.6,124.9 L62.3,122.6 L63.0,120.7 L63.7,119.1 L64.3,118.1 L66.2,120.5 L68.1,124.6 L70.0,129.5 L71.9,135.0 L73.8,140.7 L75.6,146.5 L77.5,152.3 L79.4,157.9 L81.3,163.2 L83.2,168.2 L85.1,172.8 L86.9,176.9 L88.8,180.5 L90.7,183.5 L92.6,186.0 L94.5,188.0 L96.4,189.3 L98.2,190.1 L100.1,190.4 L102.0,190.0 L103.8,189.1 L105.7,187.7 L107.5,186.0 L109.4,183.9 L111.2,181.6 L113.1,179.0 L114.9,176.3 L116.8,173.4 L118.6,170.5 L120.5,167.5 L122.3,164.6 L124.2,161.7 L126.0,158.9 L127.9,156.3 L129.7,153.9 L131.6,151.6 L133.4,149.7 L135.3,148.0 L137.1,146.5 L139.0,145.4 L140.8,144.6 L142.7,144.1 L144.5,144.0 L146.3,144.1 L148.2,144.6 L150.0,145.3 L151.8,146.2 L153.7,147.2 L155.5,148.4 L157.3,149.7 L159.1,151.1 L161.0,152.5 L162.8,154.1 L164.6,155.6 L166.5,157.2 L168.3,158.7 L170.1,160.3 L172.0,161.7 L173.8,163.1 L175.6,164.4 L177.5,165.7 L179.3,166.8 L181.1,167.7 L182.9,168.6 L184.8,169.3 L186.6,169.8 L188.4,170.2 L190.3,170.5 L192.1,170.5 L194.0,170.4 L195.9,170.1 L197.8,169.7 L199.6,169.1 L201.5,168.4 L203.4,167.6 L205.3,166.8 L207.2,165.9 L209.1,165.0 L211.0,164.0 L212.8,163.0 L214.7,162.1 L216.6,161.1 L218.5,160.2 L220.4,159.4 L222.3,158.6 L224.2,157.8 L226.0,157.2 L227.9,156.6 L229.8,156.2 L231.7,155.8 L233.6,155.5 L235.5,155.4 L237.4,155.3 L239.2,155.4 L241.1,155.5 L243.0,155.8 L244.9,156.1 L246.8,156.5 L248.7,156.9 L250.6,157.4 L252.4,157.9 L254.3,158.4 L256.2,159.0 L258.1,159.5 L260.0,160.0 L261.9,160.6 L263.8,161.1 L265.6,161.6 L267.5,162.0 L269.4,162.4 L271.3,162.8 L273.2,163.1 L275.1,163.3 L277.0,163.6 L278.8,163.7 L280.7,163.8 L282.6,163.8 L284.5,163.8 L286.4,163.7 L288.3,163.5 L290.2,163.4 L292.0,163.2 L293.9,162.9 L295.8,162.6 L297.7,162.4 L299.6,162.1 L301.5,161.8 L303.4,161.5 L305.2,161.2 L307.1,160.9 L309.0,160.6 L310.9,160.3 L312.8,160.1 L314.7,159.8 L316.6,159.6 L318.5,159.5 L320.3,159.3 L322.2,159.2 L324.1,159.1 L326.0,159.1 L327.9,159.0 L329.8,159.1 L331.7,159.1 L333.5,159.2 L335.4,159.3 L337.3,159.4 L339.2,159.6 L341.1,159.7 L343.0,159.9 L344.9,160.1 L346.7,160.3 L348.6,160.4 L350.5,160.6 L352.4,160.8 L354.3,161.0 L356.2,161.1 L358.1,161.3 L359.9,161.4 L361.8,161.5 L363.7,161.6 L365.6,161.7 L367.5,161.8 L369.4,161.8 L371.3,161.9 L373.1,161.9 L375.0,161.9 L376.9,161.8 L378.8,161.8 L380.7,161.7 L382.6,161.6 L384.5,161.6 L386.3,161.5 L388.2,161.4 L390.1,161.3 L392.0,161.2 L393.9,161.1 L395.8,161.0 L397.7,160.9 L399.5,160.8 L401.4,160.7 L403.3,160.6 L405.2,160.5 L407.1,160.4 L409.0,160.4 L410.9,160.3 L412.7,160.3 L414.6,160.3 L416.5,160.2 L418.4,160.2 L420.3,160.2 L422.2,160.3 L424.1,160.3 L425.9,160.3 L427.8,160.4 L429.7,160.4 L431.6,160.5 L433.5,160.5 L435.4,160.6 L437.3,160.6 L439.1,160.7 L441.0,160.7 L442.9,160.8 L444.8,160.8 L446.7,160.9 L448.6,160.9 L450.5,161.0 L452.3,161.0 L454.2,161.1 L456.1,161.1 L458.0,161.1 L459.9,161.1 L461.8,161.1 L463.7,161.1 L465.5,161.1 L467.4,161.1 L469.3,161.1"/>
<path class="c d" stroke="#0000ff" d="M34.0,160.8 L34.0,235.5 L47.9,189.2 L48.5,183.5 L49.1,177.9 L49.8,172.4 L50.4,166.9 L51.1,161.6 L51.7,156.4 L52.4,151.4 L53.0,146.4 L53.7,141.5 L54.3,136.8 L54.9,132.3 L55.6,127.8 L56.2,123.5 L56.9,119.4 L57.5,115.4 L58.2,111.6 L58.8,108.0 L59.5,104.5 L60.1,101.3 L60.7,98.4 L61.4,95.7 L62.0,93.4 L62.7,91.5 L63.3,90.3 L64.0,90.3 L64.7,90.0 L65.4,89.7 L66.1,89.2 L66.8,88.8 L67.5,88.4 L68.2,88.2 L68.9,88.1 L70.7,88.6 L72.6,89.6 L74.5,91.1 L76.3,92.8 L78.2,94.9 L80.1,97.2 L81.9,99.8 L83.8,102.5 L85.7,105.5 L87.5,108.5 L89.4,111.7 L91.2,115.0 L93.1,118.4 L95.0,121.9 L96.8,125.4 L98.7,128.9 L100.6,132.5 L102.4,136.0 L104.3,139.5 L106.2,143.0 L108.0,146.4 L109.9,149.7 L111.7,153.0 L113.6,156.2 L115.5,159.3 L117.3,162.3 L119.2,165.1 L121.1,167.8 L122.9,170.4 L124.8,172.8 L126.7,175.1 L128.5,177.2 L130.4,179.1 L132.3,180.9 L134.1,182.5 L136.0,183.9 L137.8,185.1 L139.7,186.1 L141.6,187.0 L143.4,187.6 L145.3,188.1 L147.2,188.4 L149.0,188.5 L150.9,188.3 L152.7,188.1 L154.5,187.6 L156.4,187.1 L158.2,186.4 L160.0,185.6 L161.9,184.8 L163.7,183.8 L165.5,182.8 L167.4,181.7 L169.2,180.5 L171.0,179.2 L172.9,178.0 L174.7,176.7 L176.5,175.3 L178.4,173.9 L180.2,172.6 L182.0,171.2 L183.9,169.8 L185.7,168.4 L187.5,167.0 L189.4,165.7 L191.2,164.3 L193.0,163.1 L194.9,161.8 L196.7,160.6 L198.5,159.5 L200.4,158.4 L202.2,157.4 L204.0,156.4 L205.9,155.5 L207.7,154.7 L209.5,154.0 L211.4,153.3 L213.2,152.7 L215.1,152.2 L216.9,151.8 L218.7,151.5 L220.6,151.3 L222.4,151.2 L224.2,151.1 L226.1,151.2 L227.9,151.3 L229.7,151.4 L231.6,151.6 L233.4,151.9 L235.2,152.2 L237.1,152.5 L238.9,152.8 L240.7,153.2 L242.6,153.6 L244.4,154.1 L246.2,154.5 L248.1,155.0 L249.9,155.5 L251.7,156.0 L253.6,156.5 L255.4,157.1 L257.2,157.6 L259.1,158.1 L260.9,158.6 L262.7,159.2 L264.6,159.7 L266.4,160.2 L268.2,160.7 L270.1,161.2 L271.9,161.7 L273.7,162.1 L275.6,162.6 L277.4,163.0 L279.2,163.4 L281.1,163.8 L282.9,164.1 L284.7,164.5 L286.6,164.8 L288.4,165.0 L290.2,165.3 L292.1,165.5 L293.9,165.7 L295.7,165.8 L297.6,165.9 L299.4,166.0 L301.2,166.0 L303.1,166.1 L304.9,166.0 L306.7,166.0 L308.6,165.9 L310.4,165.8 L312.2,165.7 L314.1,165.5 L315.9,165.4 L317.7,165.2 L319.6,165.0 L321.4,164.8 L323.2,164.6 L325.1,164.4 L326.9,164.1 L328.7,163.9 L330.6,163.6 L332.4,163.4 L334.2,163.1 L336.1,162.8 L337.9,162.6 L339.7,162.3 L341.6,162.0 L343.4,161.8 L345.2,161.5 L347.1,161.3 L348.9,161.0 L350.7,160.8 L352.6,160.6 L354.4,160.3 L356.2,160.1 L358.1,159.9 L359.9,159.7 L361.7,159.6 L363.6,159.4 L365.4,159.2 L367.2,159.1 L369.1,159.0 L370.9,158.9 L372.7,158.8 L374.6,158.7 L376.4,158.7 L378.2,158.6 L380.1,158.6 L381.9,158.6 L383.7,158.6 L385.6,158.6 L387.4,158.7 L389.2,158.7 L391.0,158.8 L392.9,158.8 L394.7,158.9 L396.5,159.0 L398.3,159.0 L400.1,159.1 L402.0,159.2 L403.8,159.3 L405.6,159.4 L407.4,159.5 L409.3,159.6 L411.1,159.7 L412.9,159.9 L414.8,160.0 L416.6,160.1 L418.4,160.2 L420.2,160.3 L422.1,160.4 L423.9,160.5 L425.7,160.6 L427.5,160.7 L429.4,160.9 L431.2,161.0 L433.0,161.1 L434.8,161.1 L436.6,161.2 L438.5,161.3 L440.3,161.4 L442.1,161.5 L443.9,161.5 L445.8,161.6 L447.6,161.7 L449.4,161.7 L451.2,161.8 L453.1,161.8 L454.9,161.8 L456.7,161.8 L458.6,161.9 L460.4,161.9 L462.2,161.9 L464.0,161.9 L465.9,161.9 L467.7,161.8 L469.5,161.8"/>
<path class="c d" stroke="#00ffff" d="M34.0,160.8 L34.0,235.5 L47.9,154.3 L48.5,146.8 L49.2,139.5 L49.9,132.3 L50.6,125.2 L51.2,118.3 L51.9,111.5 L52.6,104.9 L53.3,98.4 L53.9,92.1 L54.6,86.0 L55.3,80.0 L56.0,74.2 L56.6,68.6 L57.3,63.2 L58.0,58.0 L58.7,53.1 L59.3,48.3 L60.0,43.9 L60.7,39.7 L61.4,35.9 L62.0,32.4 L62.7,29.4 L63.4,26.9 L64.1,25.4 L65.9,26.8 L67.8,29.8 L69.6,34.0 L71.5,39.2 L73.3,45.3 L75.2,52.1 L77.0,59.5 L78.9,67.4 L80.7,75.7 L82.6,84.4 L84.4,93.3 L86.2,102.3 L88.1,111.5 L89.9,120.6 L91.8,129.7 L93.6,138.6 L95.5,147.3 L97.3,155.8 L99.2,163.9 L101.0,171.7 L102.9,179.1 L104.7,186.0 L106.6,192.4 L108.4,198.3 L110.3,203.7 L112.1,208.4 L114.0,212.6 L115.8,216.1 L117.7,219.0 L119.5,221.3 L121.4,222.9 L123.2,223.8 L125.1,224.2 L126.9,223.8 L128.8,222.8 L130.6,221.3 L132.5,219.5 L134.3,217.2 L136.1,214.6 L138.0,211.7 L139.8,208.5 L141.7,205.1 L143.5,201.5 L145.3,197.7 L147.2,193.8 L149.0,189.7 L150.9,185.7 L152.7,181.6 L154.6,177.5 L156.4,173.4 L158.2,169.4 L160.1,165.5 L161.9,161.7 L163.8,158.1 L165.6,154.6 L167.5,151.3 L169.3,148.3 L171.1,145.4 L173.0,142.9 L174.8,140.6 L176.7,138.6 L178.5,136.9 L180.4,135.4 L182.2,134.3 L184.0,133.5 L185.9,133.1 L187.7,132.9 L189.6,133.1 L191.4,133.6 L193.2,134.4 L195.1,135.4 L196.9,136.6 L198.7,137.9 L200.6,139.4 L202.4,141.1 L204.3,142.8 L206.1,144.7 L207.9,146.6 L209.8,148.6 L211.6,150.6 L213.4,152.6 L215.3,154.6 L217.1,156.6 L218.9,158.5 L220.8,160.4 L222.6,162.2 L224.5,163.9 L226.3,165.5 L228.1,167.0 L230.0,168.3 L231.8,169.6 L233.6,170.6 L235.5,171.6 L237.3,172.3 L239.1,172.9 L241.0,173.3 L242.8,173.6 L244.7,173.7 L246.5,173.6 L248.3,173.4 L250.2,173.2 L252.0,172.8 L253.8,172.4 L255.7,171.9 L257.5,171.4 L259.3,170.8 L261.2,170.1 L263.0,169.5 L264.8,168.8 L266.7,168.0 L268.5,167.3 L270.4,166.5 L272.2,165.7 L274.0,164.9 L275.9,164.2 L277.7,163.4 L279.5,162.7 L281.4,161.9 L283.2,161.2 L285.0,160.5 L286.9,159.9 L288.7,159.3 L290.5,158.7 L292.4,158.2 L294.2,157.7 L296.1,157.3 L297.9,156.9 L299.7,156.6 L301.6,156.4 L303.4,156.2 L305.2,156.0 L307.1,155.9 L308.9,155.9 L310.8,155.9 L312.6,156.0 L314.5,156.1 L316.3,156.3 L318.2,156.5 L320.0,156.7 L321.9,156.9 L323.8,157.2 L325.6,157.5 L327.5,157.8 L329.3,158.1 L331.2,158.4 L333.1,158.7 L334.9,159.1 L336.8,159.4 L338.6,159.7 L340.5,160.1 L342.3,160.4 L344.2,160.7 L346.1,161.0 L347.9,161.3 L349.8,161.5 L351.6,161.8 L353.5,162.0 L355.4,162.2 L357.2,162.4 L359.1,162.6 L360.9,162.7 L362.8,162.9 L364.6,163.0 L366.5,163.0 L368.4,163.1 L370.2,163.1 L372.1,163.1 L373.9,163.0 L375.8,163.0 L377.7,162.9 L379.5,162.8 L381.4,162.7 L383.2,162.6 L385.1,162.5 L386.9,162.4 L388.8,162.2 L390.7,162.1 L392.5,161.9 L394.4,161.8 L396.2,161.6 L398.1,161.5 L400.0,161.3 L401.8,161.2 L403.7,161.0 L405.5,160.9 L407.4,160.7 L409.2,160.6 L411.1,160.5 L413.0,160.4 L414.8,160.3 L416.7,160.2 L418.5,160.1 L420.4,160.0 L422.2,159.9 L424.1,159.9 L426.0,159.8 L427.8,159.8 L429.7,159.8 L431.5,159.8 L433.4,159.8 L435.3,159.8 L437.1,159.8 L439.0,159.9 L440.8,159.9 L442.7,160.0 L444.5,160.0 L446.4,160.1 L448.3,160.1 L450.1,160.2 L452.0,160.2 L453.8,160.3 L455.7,160.4 L457.6,160.4 L459.4,160.5 L461.3,160.6 L463.1,160.7 L465.0,160.7 L466.8,160.8 L468.7,160.8"/>
<path class="c d" stroke="#000000" d="M34.0,160.8 L34.0,235.5 L47.9,204.1 L48.6,199.0 L49.3,194.0 L50.0,189.1 L50.7,184.3 L51.4,179.6 L52.2,174.9 L52.9,170.4 L53.6,166.0 L54.3,161.7 L55.0,157.5 L55.7,153.4 L56.5,149.4 L57.2,145.6 L57.9,141.9 L58.6,138.4 L59.3,135.0 L60.1,131.7 L60.8,128.7 L61.5,125.8 L62.2,123.2 L62.9,120.8 L63.6,118.8 L64.4,117.1 L65.1,116.0 L67.0,116.6 L68.8,117.8 L70.7,119.5 L72.6,121.5 L74.4,123.7 L76.3,126.2 L78.2,128.9 L80.0,131.8 L81.9,134.7 L83.8,137.8 L85.7,140.9 L87.5,144.0 L89.4,147.1 L91.3,150.2 L93.1,153.2 L95.0,156.2 L96.9,159.0 L98.8,161.8 L100.6,164.4 L102.5,166.9 L104.4,169.2 L106.2,171.4 L108.1,173.3 L110.0,175.1 L111.8,176.7 L113.7,178.1 L115.6,179.2 L117.5,180.2 L119.3,180.9 L121.2,181.5 L123.1,181.8 L124.9,181.9 L126.8,181.8 L128.7,181.4 L130.5,180.9 L132.4,180.2 L134.2,179.4 L136.1,178.5 L137.9,177.5 L139.8,176.4 L141.7,175.2 L143.5,173.9 L145.4,172.6 L147.2,171.3 L149.1,169.9 L151.0,168.5 L152.8,167.0 L154.7,165.6 L156.5,164.3 L158.4,162.9 L160.2,161.6 L162.1,160.3 L164.0,159.1 L165.8,157.9 L167.7,156.9 L169.5,155.9 L171.4,155.0 L173.3,154.1 L175.1,153.4 L177.0,152.8 L178.8,152.3 L180.7,151.9 L182.5,151.6 L184.4,151.5 L186.3,151.4 L188.1,151.5 L189.9,151.7 L191.7,151.9 L193.6,152.2 L195.4,152.6 L197.2,153.1 L199.0,153.6 L200.9,154.1 L202.7,154.7 L204.5,155.3 L206.3,155.9 L208.2,156.6 L210.0,157.2 L211.8,157.9 L213.6,158.6 L215.5,159.2 L217.3,159.9 L219.1,160.5 L220.9,161.1 L222.8,161.7 L224.6,162.3 L226.4,162.8 L228.2,163.3 L230.1,163.7 L231.9,164.1 L233.7,164.5 L235.5,164.8 L237.4,165.0 L239.2,165.2 L241.0,165.4 L242.8,165.4 L244.7,165.5 L246.5,165.4 L248.4,165.4 L250.2,165.2 L252.1,165.1 L254.0,164.9 L255.8,164.7 L257.7,164.5 L259.5,164.2 L261.4,164.0 L263.2,163.7 L265.1,163.4 L267.0,163.1 L268.8,162.8 L270.7,162.4 L272.5,162.1 L274.4,161.8 L276.2,161.5 L278.1,161.2 L280.0,160.9 L281.8,160.6 L283.7,160.3 L285.5,160.1 L287.4,159.8 L289.3,159.6 L291.1,159.4 L293.0,159.2 L294.8,159.0 L296.7,158.9 L298.5,158.8 L300.4,158.7 L302.3,158.6 L304.1,158.6 L306.0,158.6 L307.8,158.6 L309.7,158.6 L311.6,158.7 L313.4,158.8 L315.3,158.9 L317.1,159.0 L319.0,159.1 L320.8,159.2 L322.7,159.3 L324.6,159.5 L326.4,159.6 L328.3,159.7 L330.1,159.9 L332.0,160.0 L333.9,160.2 L335.7,160.3 L337.6,160.5 L339.4,160.6 L341.3,160.8 L343.1,160.9 L345.0,161.1 L346.9,161.2 L348.7,161.3 L350.6,161.4 L352.4,161.5 L354.3,161.6 L356.2,161.7 L358.0,161.7 L359.9,161.8 L361.7,161.8 L363.6,161.9 L365.4,161.9 L367.3,161.9 L369.2,161.9 L371.0,161.9 L372.9,161.8 L374.7,161.8 L376.6,161.8 L378.4,161.7 L380.3,161.7 L382.2,161.6 L384.0,161.6 L385.9,161.5 L387.7,161.4 L389.6,161.4 L391.5,161.3 L393.3,161.2 L395.2,161.2 L397.0,161.1 L398.9,161.0 L400.7,160.9 L402.6,160.9 L404.5,160.8 L406.3,160.8 L408.2,160.7 L410.0,160.7 L411.9,160.6 L413.8,160.6 L415.6,160.5 L417.5,160.5 L419.3,160.5 L421.2,160.4 L423.0,160.4 L424.9,160.4 L426.8,160.4 L428.6,160.4 L430.5,160.4 L432.3,160.4 L434.2,160.4 L436.1,160.4 L437.9,160.4 L439.8,160.5 L441.6,160.5 L443.5,160.5 L445.3,160.5 L447.2,160.5 L449.1,160.6 L450.9,160.6 L452.8,160.6 L454.6,160.6 L456.5,160.7 L458.4,160.7 L460.2,160.7 L462.1,160.8 L463.9,160.8 L465.8,160.8 L467.6,160.8 L469.5,160.9"/>
<path class="c d" stroke="#ff00ff" d="M34.0,160.8 L34.0,235.5 L47.9,186.2 L48.5,179.9 L49.2,173.8 L49.8,167.7 L50.5,161.7 L51.2,155.9 L51.8,150.2 L52.5,144.6 L53.2,139.1 L53.8,133.8 L54.5,128.6 L55.1,123.6 L55.8,118.7 L56.5,114.0 L57.1,109.4 L57.8,105.0 L58.5,100.9 L59.1,96.9 L59.8,93.1 L60.5,89.6 L61.1,86.4 L61.8,83.4 L62.4,80.9 L63.1,78.8 L63.8,77.5 L65.6,79.2 L67.4,83.0 L69.3,88.5 L71.1,95.4 L72.9,103.3 L74.7,112.0 L76.6,121.3 L78.4,131.0 L80.2,140.9 L82.1,150.7 L83.9,160.2 L85.7,169.4 L87.5,178.0 L89.4,185.9 L91.2,192.9 L93.0,199.1 L94.9,204.2 L96.7,208.2 L98.5,211.1 L100.3,212.8 L102.2,213.4 L104.0,212.7 L105.9,210.9 L107.8,208.3 L109.7,204.9 L111.5,200.9 L113.4,196.5 L115.3,191.6 L117.1,186.4 L119.0,181.0 L120.9,175.5 L122.8,169.9 L124.6,164.5 L126.5,159.3 L128.4,154.2 L130.3,149.6 L132.1,145.3 L134.0,141.5 L135.9,138.1 L137.7,135.4 L139.6,133.2 L141.5,131.6 L143.4,130.7 L145.2,130.4 L147.1,130.8 L148.9,131.8 L150.8,133.4 L152.6,135.3 L154.5,137.7 L156.3,140.3 L158.2,143.2 L160.0,146.2 L161.9,149.4 L163.7,152.6 L165.6,155.8 L167.4,159.0 L169.2,162.1 L171.1,165.1 L172.9,167.8 L174.8,170.3 L176.6,172.5 L178.5,174.5 L180.3,176.1 L182.2,177.4 L184.0,178.3 L185.9,178.9 L187.7,179.1 L189.6,178.8 L191.5,178.2 L193.4,177.2 L195.3,176.0 L197.2,174.6 L199.1,173.0 L201.0,171.2 L202.9,169.4 L204.7,167.5 L206.6,165.6 L208.5,163.7 L210.4,161.8 L212.3,160.0 L214.2,158.4 L216.1,156.8 L218.0,155.4 L219.9,154.2 L221.8,153.2 L223.7,152.5 L225.5,151.9 L227.4,151.5 L229.3,151.4 L231.2,151.6 L233.0,152.0 L234.8,152.5 L236.6,153.2 L238.5,154.1 L240.3,155.0 L242.1,156.0 L243.9,157.1 L245.8,158.2 L247.6,159.4 L249.4,160.5 L251.2,161.6 L253.1,162.6 L254.9,163.6 L256.7,164.5 L258.5,165.3 L260.4,166.0 L262.2,166.6 L264.0,167.1 L265.8,167.4 L267.7,167.6 L269.5,167.7 L271.3,167.6 L273.2,167.4 L275.1,167.0 L276.9,166.5 L278.8,166.0 L280.6,165.4 L282.5,164.7 L284.3,164.0 L286.2,163.3 L288.1,162.5 L289.9,161.8 L291.8,161.1 L293.6,160.4 L295.5,159.8 L297.4,159.2 L299.2,158.6 L301.1,158.2 L302.9,157.8 L304.8,157.5 L306.6,157.3 L308.5,157.1 L310.4,157.1 L312.2,157.2 L314.1,157.3 L315.9,157.5 L317.8,157.7 L319.7,158.0 L321.5,158.4 L323.4,158.7 L325.2,159.1 L327.1,159.5 L328.9,159.9 L330.8,160.3 L332.7,160.7 L334.5,161.1 L336.4,161.5 L338.2,161.8 L340.1,162.1 L341.9,162.3 L343.8,162.5 L345.7,162.7 L347.5,162.8 L349.4,162.9 L351.2,162.9 L353.1,162.9 L355.0,162.8 L356.8,162.7 L358.7,162.6 L360.5,162.4 L362.4,162.2 L364.2,162.0 L366.1,161.8 L368.0,161.6 L369.8,161.3 L371.7,161.1 L373.5,160.9 L375.4,160.7 L377.3,160.5 L379.1,160.3 L381.0,160.1 L382.8,160.0 L384.7,159.9 L386.5,159.8 L388.4,159.7 L390.3,159.7 L392.1,159.6 L394.0,159.7 L395.8,159.7 L397.7,159.8 L399.6,159.8 L401.4,159.9 L403.3,160.0 L405.1,160.1 L407.0,160.3 L408.8,160.4 L410.7,160.5 L412.6,160.6 L414.4,160.8 L416.3,160.9 L418.1,161.0 L420.0,161.1 L421.9,161.2 L423.7,161.2 L425.6,161.3 L427.4,161.4 L429.3,161.4 L431.1,161.4 L433.0,161.4 L434.9,161.4 L436.7,161.4 L438.6,161.4 L440.4,161.3 L442.3,161.3 L444.1,161.2 L446.0,161.2 L447.9,161.1 L449.7,161.1 L451.6,161.0 L453.4,160.9 L455.3,160.9 L457.2,160.8 L459.0,160.8 L460.9,160.7 L462.7,160.7 L464.6,160.6 L466.4,160.6 L468.3,160.6"/>
<path class="c d" stroke="#ffff00" d="M34.0,160.8 L34.0,235.5 L47.9,202.6 L48.6,197.1 L49.3,191.7 L50.0,186.3 L50.7,181.1 L51.4,175.9 L52.2,170.9 L52.9,166.0 L53.6,161.2 L54.3,156.5 L55.0,151.9 L55.7,147.5 L56.5,143.2 L57.2,139.0 L57.9,135.0 L58.6,131.2 L59.3,127.5 L60.1,124.0 L60.8,120.7 L61.5,117.6 L62.2,114.7 L62.9,112.1 L63.6,109.9 L64.4,108.0 L65.1,106.9 L66.9,107.3 L68.7,108.2 L70.6,109.4 L72.4,110.9 L74.3,112.7 L76.1,114.7 L77.9,116.9 L79.8,119.2 L81.6,121.7 L83.4,124.4 L85.3,127.1 L87.1,129.9 L88.9,132.8 L90.8,135.7 L92.6,138.6 L94.4,141.6 L96.3,144.5 L98.1,147.4 L99.9,150.3 L101.8,153.1 L103.6,155.9 L105.4,158.5 L107.3,161.1 L109.1,163.5 L110.9,165.9 L112.8,168.1 L114.6,170.2 L116.4,172.1 L118.3,173.9 L120.1,175.6 L121.9,177.0 L123.8,178.3 L125.6,179.5 L127.4,180.4 L129.3,181.2 L131.1,181.8 L133.0,182.3 L134.8,182.5 L136.6,182.6 L138.5,182.6 L140.3,182.3 L142.2,182.0 L144.1,181.6 L145.9,181.1 L147.8,180.6 L149.6,179.9 L151.5,179.2 L153.3,178.5 L155.2,177.7 L157.1,176.8 L158.9,175.9 L160.8,174.9 L162.6,173.9 L164.5,172.9 L166.4,171.9 L168.2,170.8 L170.1,169.8 L171.9,168.7 L173.8,167.6 L175.6,166.6 L177.5,165.5 L179.4,164.5 L181.2,163.5 L183.1,162.4 L184.9,161.5 L186.8,160.5 L188.6,159.6 L190.5,158.7 L192.4,157.9 L194.2,157.1 L196.1,156.4 L197.9,155.7 L199.8,155.0 L201.7,154.4 L203.5,153.9 L205.4,153.4 L207.2,153.0 L209.1,152.7 L210.9,152.4 L212.8,152.2 L214.7,152.0 L216.5,151.9 L218.4,151.9 L220.2,151.9 L222.0,152.0 L223.9,152.1 L225.7,152.3 L227.5,152.5 L229.3,152.7 L231.2,153.0 L233.0,153.3 L234.8,153.6 L236.6,153.9 L238.5,154.3 L240.3,154.7 L242.1,155.1 L243.9,155.5 L245.8,155.9 L247.6,156.3 L249.4,156.7 L251.2,157.2 L253.1,157.6 L254.9,158.1 L256.7,158.5 L258.5,158.9 L260.4,159.4 L262.2,159.8 L264.0,160.2 L265.8,160.6 L267.7,161.0 L269.5,161.4 L271.3,161.7 L273.1,162.1 L275.0,162.4 L276.8,162.7 L278.6,163.0 L280.4,163.3 L282.3,163.5 L284.1,163.7 L285.9,163.9 L287.7,164.1 L289.6,164.2 L291.4,164.4 L293.2,164.4 L295.0,164.5 L296.9,164.6 L298.7,164.6 L300.5,164.6 L302.3,164.5 L304.2,164.5 L306.0,164.4 L307.8,164.3 L309.6,164.2 L311.5,164.1 L313.3,164.0 L315.1,163.9 L316.9,163.7 L318.8,163.6 L320.6,163.4 L322.4,163.3 L324.2,163.1 L326.1,162.9 L327.9,162.7 L329.7,162.6 L331.5,162.4 L333.4,162.2 L335.2,162.0 L337.0,161.8 L338.8,161.7 L340.7,161.5 L342.5,161.3 L344.3,161.1 L346.1,161.0 L348.0,160.8 L349.8,160.7 L351.6,160.5 L353.4,160.4 L355.3,160.2 L357.1,160.1 L358.9,160.0 L360.7,159.9 L362.6,159.8 L364.4,159.7 L366.2,159.6 L368.0,159.5 L369.9,159.5 L371.7,159.4 L373.5,159.4 L375.3,159.4 L377.2,159.3 L379.0,159.3 L380.8,159.3 L382.6,159.4 L384.5,159.4 L386.3,159.4 L388.1,159.4 L389.9,159.5 L391.8,159.5 L393.6,159.6 L395.4,159.6 L397.2,159.7 L399.1,159.7 L400.9,159.8 L402.7,159.9 L404.5,159.9 L406.4,160.0 L408.2,160.1 L410.0,160.1 L411.8,160.2 L413.7,160.3 L415.5,160.4 L417.3,160.4 L419.1,160.5 L421.0,160.6 L422.8,160.6 L424.6,160.7 L426.4,160.8 L428.3,160.8 L430.1,160.9 L431.9,161.0 L433.7,161.0 L435.6,161.1 L437.4,161.1 L439.2,161.2 L441.0,161.2 L442.9,161.3 L444.7,161.3 L446.5,161.3 L448.3,161.4 L450.2,161.4 L452.0,161.4 L453.8,161.4 L455.6,161.4 L457.5,161.4 L459.3,161.4 L461.1,161.4 L462.9,161.4 L464.8,161.4 L466.6,161.4 L468.4,161.4"/>
</g>
<rect x="31.5" y="11.5" width="438.0" height="224.0" fill="none" stroke="#1a1a1a" stroke-width="1"/>
<path d="M104.5,235.5 v-4.5 M104.5,11.5 v4.5 M177.5,235.5 v-4.5 M177.5,11.5 v4.5 M250.5,235.5 v-4.5 M250.5,11.5 v4.5 M323.5,235.5 v-4.5 M323.5,11.5 v4.5 M396.5,235.5 v-4.5 M396.5,11.5 v4.5 M31.5,160.8 h4.5 M469.5,160.8 h-4.5 M31.5,86.2 h4.5 M469.5,86.2 h-4.5" stroke="#1a1a1a" stroke-width="1" fill="none"/>
<text class="tk" x="31.5" y="251.3" text-anchor="middle" letter-spacing="0.5">0</text>
<text class="tk" x="104.5" y="251.3" text-anchor="middle" letter-spacing="0.5">50</text>
<text class="tk" x="177.5" y="251.3" text-anchor="middle" letter-spacing="0.5">100</text>
<text class="tk" x="250.5" y="251.3" text-anchor="middle" letter-spacing="0.5">150</text>
<text class="tk" x="323.5" y="251.3" text-anchor="middle" letter-spacing="0.5">200</text>
<text class="tk" x="396.5" y="251.3" text-anchor="middle" letter-spacing="0.5">250</text>
<text class="tk" x="469.5" y="251.3" text-anchor="middle" letter-spacing="0.5">300</text>
<text class="tk" x="27.8" y="239.8" text-anchor="end" letter-spacing="0.5">-5</text>
<text class="tk" x="27.8" y="165.1" text-anchor="end" letter-spacing="0.5">0</text>
<text class="tk" x="27.8" y="90.5" text-anchor="end" letter-spacing="0.5">5</text>
<text class="tk" x="27.8" y="15.8" text-anchor="end" letter-spacing="0.5">10</text>
<text x="223.2" y="264.4" text-anchor="middle" font-style="italic" font-size="14.5" letter-spacing="0.3" stroke="#111" stroke-width="0.15">time/µs</text>
<text transform="translate(13.9,124.9) rotate(-91.5)" text-anchor="middle" font-style="italic" font-size="11" letter-spacing="1.2" stroke="#111" stroke-width="0.12">Voltage amplitude</text>
<rect x="474.5" y="20.5" width="67" height="185" fill="#fff" stroke="#1a1a1a" stroke-width="1"/>
<path class="c" stroke="#ff0000" d="M476.6,28.6 H499" style="stroke-width:1.7"/>
<text class="lg" x="500" y="32.5">No fault</text>
<path class="c" stroke="#00ff00" d="M476.6,42.7 H499" style="stroke-width:1.7"/>
<text class="lg" x="500" y="46.6">C1<tspan font-size="15.5" dy="1" dx="-1.4">↓</tspan></text>
<path class="c" stroke="#0000ff" d="M476.6,56.8 H499" style="stroke-width:1.7"/>
<text class="lg" x="500" y="60.7">C1<tspan font-size="15.5" dy="1" dx="-1.4">↑</tspan></text>
<path class="c" stroke="#00ffff" d="M476.6,70.9 H499" style="stroke-width:1.7"/>
<text class="lg" x="500" y="74.8">C2<tspan font-size="15.5" dy="1" dx="-1.4">↓</tspan></text>
<path class="c" stroke="#000000" d="M476.6,85.0 H499" style="stroke-width:1.7"/>
<text class="lg" x="500" y="88.9">C2<tspan font-size="15.5" dy="1" dx="-1.4">↑</tspan></text>
<path class="c" stroke="#ff00ff" d="M476.6,99.1 H499" style="stroke-width:1.7"/>
<text class="lg" x="500" y="103.0">R1<tspan font-size="15.5" dy="1" dx="-1.4">↓</tspan></text>
<path class="c d" stroke="#ff0000" d="M476.6,113.1 H499" style="stroke-width:1.7"/>
<text class="lg" x="500" y="117.0">R1<tspan font-size="15.5" dy="1" dx="-1.4">↑</tspan></text>
<path class="c d" stroke="#00ff00" d="M476.6,127.2 H499" style="stroke-width:1.7"/>
<text class="lg" x="500" y="131.1">R2<tspan font-size="15.5" dy="1" dx="-1.4">↓</tspan></text>
<path class="c d" stroke="#0000ff" d="M476.6,141.3 H499" style="stroke-width:1.7"/>
<text class="lg" x="500" y="145.2">R2<tspan font-size="15.5" dy="1" dx="-1.4">↑</tspan></text>
<path class="c d" stroke="#00ffff" d="M476.6,155.4 H499" style="stroke-width:1.7"/>
<text class="lg" x="500" y="159.3">R3<tspan font-size="15.5" dy="1" dx="-1.4">↓</tspan></text>
<path class="c d" stroke="#000000" d="M476.6,169.5 H499" style="stroke-width:1.7"/>
<text class="lg" x="500" y="173.4">R3<tspan font-size="15.5" dy="1" dx="-1.4">↑</tspan></text>
<path class="c d" stroke="#ff00ff" d="M476.6,183.6 H499" style="stroke-width:1.7"/>
<text class="lg" x="500" y="187.5">R4<tspan font-size="15.5" dy="1" dx="-1.4">↓</tspan></text>
<path class="c d" stroke="#ffff00" d="M476.6,197.7 H499" style="stroke-width:1.7"/>
<text class="lg" x="500" y="201.6">R4<tspan font-size="15.5" dy="1" dx="-1.4">↑</tspan></text>
</svg></body></html>
